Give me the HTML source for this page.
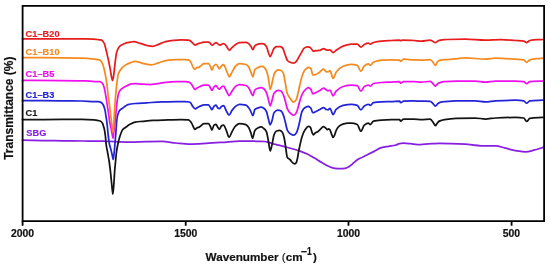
<!DOCTYPE html>
<html><head><meta charset="utf-8"><style>
html,body{margin:0;padding:0;background:#fff;}
body{width:550px;height:268px;overflow:hidden;}
svg{display:block;}
text{font-family:"Liberation Sans",Arial,sans-serif;font-weight:bold;}
</style></head><body>
<svg width="550" height="268" viewBox="0 0 550 268">
<rect width="550" height="268" fill="#fff"/>
<g fill="none" stroke-width="1.75" stroke-linejoin="round" stroke-linecap="round">
<path d="M22.50 140.20C29.07 140.33 35.63 140.51 42.20 140.60C48.90 140.69 55.60 140.73 62.30 140.80C69.03 140.87 75.77 140.93 82.50 141.00C89.20 141.07 95.90 141.10 102.60 141.20C111.73 141.33 120.87 142.00 130.00 142.00C135.33 142.00 140.67 141.69 146.00 141.60C151.33 141.51 156.67 141.40 162.00 141.40C166.67 141.40 171.33 142.59 176.00 143.00C180.67 143.41 185.33 144.00 190.00 144.00C195.33 144.00 200.67 143.65 206.00 143.40C211.33 143.15 216.67 142.77 222.00 142.40C228.00 141.99 234.00 141.00 240.00 141.00C246.20 141.00 252.40 141.16 258.60 141.30C260.73 141.35 262.87 141.37 265.00 141.50C265.87 141.55 266.73 141.88 267.60 142.10C270.17 142.75 272.73 143.71 275.30 144.40C278.70 145.32 282.10 146.00 285.50 146.90C290.33 148.18 295.17 149.45 300.00 151.10C302.43 151.93 304.87 152.86 307.30 154.00C309.70 155.12 312.10 156.69 314.50 158.10C316.93 159.52 319.37 161.10 321.80 162.50C324.23 163.90 326.67 165.55 329.10 166.50C331.03 167.26 332.97 168.08 334.90 168.30C336.83 168.52 338.77 168.70 340.70 168.70C342.13 168.70 343.57 168.52 345.00 168.30C346.00 168.15 347.00 167.68 348.00 167.20C349.43 166.52 350.87 165.26 352.30 164.10C353.37 163.24 354.43 162.01 355.50 161.20C356.83 160.18 358.17 159.36 359.50 158.60C361.93 157.22 364.37 156.20 366.80 155.00C369.23 153.80 371.67 152.62 374.10 151.40C376.53 150.18 378.97 148.38 381.40 147.70C383.80 147.03 386.20 146.75 388.60 146.30C391.03 145.85 393.47 145.60 395.90 145.00C397.10 144.70 398.30 143.94 399.50 143.70C400.73 143.46 401.97 143.20 403.20 143.20C405.63 143.20 408.07 143.49 410.50 143.70C412.90 143.90 415.30 144.50 417.70 144.50C420.13 144.50 422.57 144.23 425.00 144.10C427.43 143.97 429.87 143.82 432.30 143.70C434.70 143.59 437.10 143.40 439.50 143.40C443.37 143.40 447.23 143.51 451.10 143.60C455.80 143.71 460.50 143.92 465.20 144.20C470.60 144.52 476.00 145.80 481.40 145.80C486.10 145.80 490.80 145.80 495.50 145.80C498.87 145.80 502.23 147.40 505.60 148.20C508.93 149.00 512.27 150.04 515.60 150.60C518.97 151.16 522.33 151.90 525.70 151.90C528.40 151.90 531.10 150.86 533.80 150.20C537.17 149.38 540.53 148.20 543.90 147.20" stroke="#871ee1"/>
<path d="M22.50 119.70C35.67 119.57 48.83 119.30 62.00 119.30C68.67 119.30 75.33 119.30 82.00 119.30C86.00 119.30 90.00 119.51 94.00 119.80C96.07 119.95 98.13 120.26 100.20 121.00C100.97 121.27 101.73 121.98 102.50 123.20C102.80 123.68 103.10 125.03 103.40 126.00C103.70 126.97 104.00 127.70 104.30 129.00C104.67 130.59 105.03 132.94 105.40 136.00C105.63 137.95 105.87 142.15 106.10 144.00C106.57 147.69 107.03 149.35 107.50 152.00C108.03 155.02 108.57 157.49 109.10 161.00C109.57 164.07 110.03 167.89 110.50 172.00C110.93 175.82 111.37 180.90 111.80 185.00C112.13 188.15 112.47 194.00 112.80 194.00C113.13 194.00 113.47 188.90 113.80 185.00C114.07 181.88 114.33 175.53 114.60 172.00C114.90 168.03 115.20 165.16 115.50 162.00C115.83 158.49 116.17 154.46 116.50 152.00C116.97 148.55 117.43 146.16 117.90 144.00C118.60 140.76 119.30 138.04 120.00 136.00C120.93 133.28 121.87 130.54 122.80 129.50C123.70 128.49 124.60 128.15 125.50 127.50C127.00 126.41 128.50 125.09 130.00 124.30C131.70 123.41 133.40 122.52 135.10 122.20C137.63 121.72 140.17 121.57 142.70 121.30C146.10 120.93 149.50 120.45 152.90 120.30C158.00 120.08 163.10 120.03 168.20 119.90C172.43 119.80 176.67 119.60 180.90 119.60C183.43 119.60 185.97 119.67 188.50 119.90C189.37 119.98 190.23 121.12 191.10 122.20C191.73 122.99 192.37 124.80 193.00 126.00C193.63 127.20 194.27 129.40 194.90 129.40C195.77 129.40 196.63 127.88 197.50 127.60C197.93 127.46 198.37 127.44 198.80 127.30C200.50 126.76 202.20 123.70 203.90 123.70C205.40 123.70 206.90 123.70 208.40 123.70C209.03 123.70 209.67 125.19 210.30 126.30C210.83 127.23 211.37 130.10 211.90 130.10C212.63 130.10 213.37 125.40 214.10 125.00C214.73 124.65 215.37 124.40 216.00 124.40C216.63 124.40 217.27 126.66 217.90 127.50C218.40 128.16 218.90 129.20 219.40 129.20C220.17 129.20 220.93 125.99 221.70 125.60C222.33 125.27 222.97 125.00 223.60 125.00C224.47 125.00 225.33 128.20 226.20 130.10C227.17 132.21 228.13 137.30 229.10 137.30C230.03 137.30 230.97 133.63 231.90 132.00C233.17 129.79 234.43 126.98 235.70 125.90C236.97 124.82 238.23 123.70 239.50 123.70C241.63 123.70 243.77 124.01 245.90 124.60C246.77 124.84 247.63 125.97 248.50 127.20C249.33 128.39 250.17 130.90 251.00 133.30C251.50 134.74 252.00 138.40 252.50 138.40C253.27 138.40 254.03 131.86 254.80 130.70C255.67 129.39 256.53 128.65 257.40 128.20C258.67 127.54 259.93 126.90 261.20 126.90C262.07 126.90 262.93 127.80 263.80 128.50C264.67 129.20 265.53 129.90 266.40 131.60C267.03 132.84 267.67 137.29 268.30 140.50C268.93 143.71 269.57 151.00 270.20 151.00C270.83 151.00 271.47 147.01 272.10 144.40C272.73 141.79 273.37 136.32 274.00 134.80C274.83 132.80 275.67 131.29 276.50 131.00C277.57 130.63 278.63 130.40 279.70 130.40C280.57 130.40 281.43 131.25 282.30 132.30C282.93 133.07 283.57 135.39 284.20 138.00C284.63 139.79 285.07 143.05 285.50 146.00C285.77 147.82 286.03 150.24 286.30 152.00C286.60 153.98 286.90 156.81 287.20 157.30C288.10 158.77 289.00 158.63 289.90 159.50C290.77 160.34 291.63 161.86 292.50 162.60C293.13 163.14 293.77 163.90 294.40 163.90C295.03 163.90 295.67 163.37 296.30 162.60C296.70 162.11 297.10 160.01 297.50 158.20C297.93 156.24 298.37 152.75 298.80 150.50C299.23 148.25 299.67 146.39 300.10 144.50C300.73 141.74 301.37 138.57 302.00 136.70C303.07 133.55 304.13 131.13 305.20 129.60C306.23 128.12 307.27 126.30 308.30 126.30C308.93 126.30 309.57 126.59 310.20 127.00C310.87 127.43 311.53 131.49 312.20 132.80C312.63 133.65 313.07 134.80 313.50 134.80C314.13 134.80 314.77 133.23 315.40 132.80C316.30 132.19 317.20 132.09 318.10 131.50C318.97 130.94 319.83 129.69 320.70 128.90C321.57 128.11 322.43 126.70 323.30 126.70C323.93 126.70 324.57 127.19 325.20 127.60C325.87 128.03 326.53 129.60 327.20 129.60C327.63 129.60 328.07 128.90 328.50 128.90C328.93 128.90 329.37 129.22 329.80 129.60C330.23 129.98 330.67 131.77 331.10 132.80C331.77 134.39 332.43 137.40 333.10 137.40C333.53 137.40 333.97 136.32 334.40 135.50C335.03 134.31 335.67 131.46 336.30 130.20C337.17 128.48 338.03 127.02 338.90 126.30C340.23 125.19 341.57 124.49 342.90 124.10C344.63 123.60 346.37 123.10 348.10 123.10C349.13 123.10 350.17 123.10 351.20 123.10C353.23 123.10 355.27 123.61 357.30 124.50C358.50 125.03 359.70 131.20 360.90 131.20C362.03 131.20 363.17 126.00 364.30 125.10C365.63 124.04 366.97 123.10 368.30 123.10C369.00 123.10 369.70 124.50 370.40 124.50C371.40 124.50 372.40 121.35 373.40 121.10C376.10 120.41 378.80 120.27 381.50 120.10C384.83 119.89 388.17 119.70 391.50 119.70C394.20 119.70 396.90 119.70 399.60 119.70C399.93 119.70 400.27 121.10 400.60 121.10C401.60 121.10 402.60 119.10 403.60 119.10C406.97 119.10 410.33 119.10 413.70 119.10C416.40 119.10 419.10 119.50 421.80 119.50C424.53 119.50 427.27 119.10 430.00 119.10C430.53 119.10 431.07 119.79 431.60 120.30C432.23 120.91 432.87 122.02 433.50 122.90C434.13 123.78 434.77 125.60 435.40 125.60C436.03 125.60 436.67 123.82 437.30 123.10C437.97 122.34 438.63 121.43 439.30 121.10C440.00 120.75 440.70 120.61 441.40 120.40C442.43 120.10 443.47 119.77 444.50 119.60C448.40 118.98 452.30 118.54 456.20 118.40C462.57 118.17 468.93 118.00 475.30 118.00C478.67 118.00 482.03 119.00 485.40 119.00C488.77 119.00 492.13 118.16 495.50 118.00C502.20 117.67 508.90 117.40 515.60 117.40C518.30 117.40 521.00 117.57 523.70 118.00C524.70 118.16 525.70 121.40 526.70 121.40C527.73 121.40 528.77 118.58 529.80 118.40C534.17 117.65 538.53 117.73 542.90 117.40" stroke="#141414"/>
<path d="M22.50 100.60C35.67 100.67 48.83 100.71 62.00 100.80C68.67 100.85 75.33 100.89 82.00 101.00C86.33 101.07 90.67 101.60 95.00 101.60C95.67 101.60 96.33 101.50 97.00 101.50C97.50 101.50 98.00 101.55 98.50 101.60C99.17 101.67 99.83 101.85 100.50 102.10C100.83 102.22 101.17 102.45 101.50 102.70C101.83 102.95 102.17 103.28 102.50 103.70C102.77 104.03 103.03 104.47 103.30 105.00C103.67 105.73 104.03 106.75 104.40 107.90C104.67 108.73 104.93 109.57 105.20 110.90C105.43 112.06 105.67 114.51 105.90 116.00C106.13 117.49 106.37 118.39 106.60 120.00C106.90 122.07 107.20 125.17 107.50 128.00C107.77 130.51 108.03 133.74 108.30 136.00C108.67 139.11 109.03 142.16 109.40 144.00C110.00 147.00 110.60 148.17 111.20 150.60C111.57 152.09 111.93 153.91 112.30 155.50C112.60 156.80 112.90 159.30 113.20 159.30C113.43 159.30 113.67 156.71 113.90 155.00C114.07 153.78 114.23 152.32 114.40 150.60C114.60 148.53 114.80 145.43 115.00 143.00C115.20 140.57 115.40 138.49 115.60 136.00C115.80 133.51 116.00 130.67 116.20 128.00C116.40 125.33 116.60 121.53 116.80 120.00C117.20 116.94 117.60 115.18 118.00 114.00C118.63 112.13 119.27 110.90 119.90 110.20C120.80 109.20 121.70 108.87 122.60 108.20C123.57 107.48 124.53 106.65 125.50 106.00C126.27 105.48 127.03 104.81 127.80 104.60C130.23 103.94 132.67 103.72 135.10 103.50C138.90 103.16 142.70 103.03 146.50 102.80C151.60 102.49 156.70 102.08 161.80 101.90C166.90 101.72 172.00 101.50 177.10 101.50C179.73 101.50 182.37 101.59 185.00 101.70C186.33 101.75 187.67 101.81 189.00 102.00C189.57 102.08 190.13 102.44 190.70 102.90C191.30 103.39 191.90 105.32 192.50 106.10C193.40 107.27 194.30 108.80 195.20 108.80C196.10 108.80 197.00 107.76 197.90 107.30C199.10 106.69 200.30 106.03 201.50 105.60C202.30 105.32 203.10 104.90 203.90 104.90C205.40 104.90 206.90 104.90 208.40 104.90C209.03 104.90 209.67 106.33 210.30 107.20C210.83 107.93 211.37 109.70 211.90 109.70C212.63 109.70 213.37 106.77 214.10 106.20C214.73 105.71 215.37 105.20 216.00 105.20C216.63 105.20 217.27 107.71 217.90 108.10C218.40 108.41 218.90 108.70 219.40 108.70C220.17 108.70 220.93 106.62 221.70 106.20C222.33 105.86 222.97 105.50 223.60 105.50C224.47 105.50 225.33 109.10 226.20 110.60C227.17 112.28 228.13 115.10 229.10 115.10C230.03 115.10 230.97 111.87 231.90 110.60C233.17 108.88 234.43 107.08 235.70 106.20C236.97 105.32 238.23 104.30 239.50 104.30C241.63 104.30 243.77 104.62 245.90 105.20C246.77 105.43 247.63 106.48 248.50 107.50C249.33 108.48 250.17 110.34 251.00 111.90C251.63 113.09 252.27 115.70 252.90 115.70C253.53 115.70 254.17 110.38 254.80 109.70C255.67 108.77 256.53 108.40 257.40 108.10C258.67 107.65 259.93 107.20 261.20 107.20C262.07 107.20 262.93 107.75 263.80 108.30C264.67 108.85 265.53 109.86 266.40 111.50C267.03 112.70 267.67 116.29 268.30 118.50C268.93 120.71 269.57 124.80 270.20 124.80C270.83 124.80 271.47 122.27 272.10 120.40C272.73 118.53 273.37 113.48 274.00 112.70C275.27 111.14 276.53 110.20 277.80 110.20C278.87 110.20 279.93 110.43 281.00 110.80C281.83 111.09 282.67 113.24 283.50 115.30C284.10 116.78 284.70 119.69 285.30 122.00C286.00 124.70 286.70 129.12 287.40 130.40C288.43 132.29 289.47 133.28 290.50 133.90C291.57 134.54 292.63 135.20 293.70 135.20C294.57 135.20 295.43 134.08 296.30 132.90C296.93 132.03 297.57 129.89 298.20 127.80C298.67 126.26 299.13 123.98 299.60 122.00C300.40 118.60 301.20 113.07 302.00 111.50C303.07 109.41 304.13 108.21 305.20 107.60C306.27 106.99 307.33 106.40 308.40 106.40C309.23 106.40 310.07 107.32 310.90 108.30C311.53 109.04 312.17 112.70 312.80 112.70C313.87 112.70 314.93 111.96 316.00 111.50C317.27 110.95 318.53 110.15 319.80 109.50C321.07 108.85 322.33 107.60 323.60 107.60C324.47 107.60 325.33 109.21 326.20 109.50C326.80 109.70 327.40 109.90 328.00 109.90C328.67 109.90 329.33 108.30 330.00 108.30C331.03 108.30 332.07 114.70 333.10 114.70C334.10 114.70 335.10 110.23 336.10 109.30C338.43 107.13 340.77 105.78 343.10 105.30C345.80 104.74 348.50 104.30 351.20 104.30C353.23 104.30 355.27 104.67 357.30 105.30C358.50 105.67 359.70 109.90 360.90 109.90C362.03 109.90 363.17 106.59 364.30 105.90C365.63 105.09 366.97 104.30 368.30 104.30C369.00 104.30 369.70 105.30 370.40 105.30C371.40 105.30 372.40 102.80 373.40 102.60C376.10 102.05 378.80 101.89 381.50 101.80C384.83 101.69 388.17 101.70 391.50 101.60C394.20 101.52 396.90 101.20 399.60 101.20C399.93 101.20 400.27 102.60 400.60 102.60C401.60 102.60 402.60 101.29 403.60 101.20C406.97 100.91 410.33 100.80 413.70 100.80C416.40 100.80 419.10 101.15 421.80 101.20C424.63 101.25 427.47 101.22 430.30 101.30C431.13 101.32 431.97 102.54 432.80 103.30C433.67 104.09 434.53 106.10 435.40 106.10C436.27 106.10 437.13 104.08 438.00 103.50C438.87 102.92 439.73 102.41 440.60 102.20C441.90 101.88 443.20 101.73 444.50 101.60C448.40 101.21 452.30 100.80 456.20 100.80C462.57 100.80 468.93 100.80 475.30 100.80C478.67 100.80 482.03 101.80 485.40 101.80C488.77 101.80 492.13 100.96 495.50 100.80C502.20 100.47 508.90 100.20 515.60 100.20C518.30 100.20 521.00 100.38 523.70 100.80C524.70 100.96 525.70 103.20 526.70 103.20C527.73 103.20 528.77 100.91 529.80 100.80C534.17 100.34 538.53 100.40 542.90 100.20" stroke="#2323d7"/>
<path d="M22.50 80.40C35.00 80.43 47.50 80.44 60.00 80.50C68.33 80.54 76.67 80.61 85.00 80.80C88.33 80.88 91.67 81.50 95.00 81.50C95.83 81.50 96.67 81.50 97.50 81.50C98.23 81.50 98.97 81.54 99.70 81.60C100.47 81.66 101.23 82.22 102.00 82.90C102.50 83.34 103.00 84.34 103.50 85.50C103.87 86.35 104.23 87.66 104.60 89.20C104.87 90.32 105.13 92.01 105.40 93.50C105.60 94.62 105.80 95.78 106.00 97.00C106.47 99.84 106.93 102.95 107.40 106.00C107.90 109.27 108.40 112.31 108.90 116.00C109.07 117.23 109.23 118.93 109.40 120.00C109.93 123.42 110.47 125.33 111.00 128.00C111.40 130.00 111.80 131.92 112.20 134.00C112.47 135.38 112.73 138.30 113.00 138.30C113.27 138.30 113.53 134.05 113.80 132.00C114.07 129.95 114.33 128.14 114.60 126.00C114.83 124.13 115.07 122.25 115.30 120.00C115.60 117.11 115.90 113.01 116.20 110.00C116.57 106.32 116.93 102.53 117.30 100.00C117.53 98.39 117.77 97.12 118.00 96.00C118.30 94.56 118.60 93.01 118.90 92.30C119.33 91.27 119.77 90.72 120.20 90.20C120.77 89.52 121.33 89.04 121.90 88.60C122.60 88.05 123.30 87.60 124.00 87.20C125.23 86.50 126.47 85.96 127.70 85.40C128.93 84.84 130.17 83.90 131.40 83.80C132.90 83.68 134.40 83.60 135.90 83.60C137.63 83.60 139.37 84.00 141.10 84.10C142.83 84.20 144.57 84.21 146.30 84.30C147.57 84.37 148.83 84.60 150.10 84.60C151.73 84.60 153.37 84.32 155.00 84.10C156.43 83.91 157.87 83.51 159.30 83.30C162.37 82.84 165.43 82.50 168.50 82.20C171.23 81.93 173.97 81.50 176.70 81.50C179.63 81.50 182.57 81.57 185.50 81.70C186.70 81.75 187.90 81.90 189.10 82.20C189.83 82.38 190.57 83.20 191.30 84.00C192.03 84.80 192.77 86.52 193.50 87.60C193.97 88.29 194.43 89.50 194.90 89.50C195.63 89.50 196.37 88.43 197.10 88.00C198.07 87.43 199.03 86.90 200.00 86.50C201.30 85.97 202.60 85.20 203.90 85.20C205.40 85.20 206.90 85.20 208.40 85.20C209.03 85.20 209.67 86.58 210.30 87.50C210.83 88.28 211.37 90.40 211.90 90.40C212.63 90.40 213.37 87.50 214.10 86.80C214.73 86.19 215.37 85.50 216.00 85.50C216.63 85.50 217.27 87.54 217.90 88.10C218.40 88.54 218.90 89.10 219.40 89.10C220.17 89.10 220.93 87.16 221.70 86.80C222.33 86.50 222.97 86.20 223.60 86.20C224.47 86.20 225.33 89.11 226.20 90.60C227.17 92.27 228.13 95.70 229.10 95.70C230.03 95.70 230.97 92.66 231.90 91.30C233.17 89.46 234.43 86.97 235.70 86.20C236.97 85.43 238.23 84.70 239.50 84.70C241.63 84.70 243.77 84.99 245.90 85.50C246.77 85.71 247.63 86.53 248.50 87.50C249.33 88.43 250.17 90.98 251.00 92.50C251.63 93.65 252.27 95.70 252.90 95.70C253.53 95.70 254.17 90.64 254.80 90.00C255.67 89.13 256.53 88.82 257.40 88.50C258.67 88.03 259.93 87.50 261.20 87.50C262.07 87.50 262.93 88.09 263.80 88.70C264.67 89.31 265.53 90.70 266.40 92.50C267.03 93.82 267.67 96.67 268.30 98.90C268.93 101.13 269.57 105.90 270.20 105.90C270.83 105.90 271.47 102.29 272.10 100.20C272.73 98.11 273.37 94.06 274.00 93.20C275.27 91.47 276.53 90.30 277.80 90.30C278.87 90.30 279.93 90.57 281.00 91.00C281.83 91.33 282.67 93.24 283.50 95.10C284.10 96.44 284.70 98.90 285.30 101.00C286.00 103.45 286.70 107.39 287.40 108.90C288.43 111.13 289.47 112.53 290.50 113.40C291.57 114.30 292.63 115.30 293.70 115.30C294.57 115.30 295.43 114.03 296.30 112.70C296.93 111.72 297.57 109.12 298.20 107.00C298.73 105.22 299.27 102.76 299.80 101.00C300.37 99.13 300.93 97.35 301.50 96.00C302.30 94.10 303.10 92.28 303.90 91.30C305.40 89.46 306.90 87.50 308.40 87.50C309.23 87.50 310.07 88.42 310.90 89.40C311.53 90.14 312.17 93.80 312.80 93.80C313.87 93.80 314.93 92.98 316.00 92.50C317.27 91.93 318.53 91.32 319.80 90.60C321.07 89.88 322.33 88.10 323.60 88.10C324.47 88.10 325.33 89.17 326.20 89.70C326.80 90.07 327.40 90.80 328.00 90.80C328.67 90.80 329.33 90.10 330.00 90.10C331.03 90.10 332.07 95.80 333.10 95.80C334.10 95.80 335.10 92.19 336.10 91.20C338.43 88.90 340.77 87.15 343.10 86.50C345.80 85.75 348.50 85.10 351.20 85.10C353.23 85.10 355.27 85.29 357.30 85.70C358.50 85.94 359.70 91.20 360.90 91.20C362.03 91.20 363.17 87.14 364.30 86.50C365.63 85.74 366.97 85.10 368.30 85.10C369.00 85.10 369.70 86.10 370.40 86.10C371.40 86.10 372.40 83.74 373.40 83.50C376.10 82.84 378.80 82.67 381.50 82.50C384.83 82.29 388.17 82.25 391.50 82.10C394.20 81.98 396.90 81.70 399.60 81.70C399.93 81.70 400.27 83.10 400.60 83.10C401.60 83.10 402.60 81.70 403.60 81.70C406.97 81.70 410.33 81.70 413.70 81.70C416.40 81.70 419.10 82.10 421.80 82.10C424.53 82.10 427.27 81.40 430.00 81.40C430.87 81.40 431.73 82.47 432.60 83.20C433.50 83.96 434.40 86.10 435.30 86.10C436.17 86.10 437.03 83.91 437.90 83.40C438.80 82.87 439.70 82.51 440.60 82.30C441.90 82.00 443.20 81.81 444.50 81.70C448.40 81.37 452.30 81.10 456.20 81.10C462.57 81.10 468.93 81.10 475.30 81.10C478.67 81.10 482.03 82.10 485.40 82.10C488.77 82.10 492.13 81.10 495.50 81.10C502.20 81.10 508.90 81.10 515.60 81.10C518.30 81.10 521.00 81.29 523.70 81.70C524.70 81.85 525.70 83.70 526.70 83.70C527.73 83.70 528.77 81.81 529.80 81.70C534.17 81.25 538.53 81.30 542.90 81.10" stroke="#ee10ee"/>
<path d="M22.50 57.60C35.67 57.67 48.83 57.69 62.00 57.80C68.67 57.85 75.33 57.92 82.00 58.10C86.33 58.22 90.67 58.70 95.00 59.20C96.50 59.37 98.00 59.46 99.50 59.90C100.23 60.12 100.97 61.14 101.70 62.20C102.13 62.83 102.57 63.83 103.00 65.00C103.33 65.90 103.67 67.18 104.00 68.50C104.50 70.48 105.00 72.83 105.50 75.50C106.00 78.17 106.50 81.14 107.00 84.90C107.40 87.91 107.80 92.76 108.20 96.00C108.67 99.77 109.13 102.40 109.60 106.00C110.00 109.08 110.40 112.74 110.80 116.00C110.97 117.36 111.13 118.60 111.30 120.00C111.60 122.51 111.90 125.94 112.20 128.00C112.47 129.83 112.73 132.50 113.00 132.50C113.20 132.50 113.40 129.46 113.60 127.00C113.73 125.36 113.87 122.28 114.00 120.00C114.20 116.58 114.40 113.17 114.60 110.00C114.87 105.78 115.13 101.25 115.40 98.00C115.83 92.72 116.27 88.97 116.70 85.00C116.93 82.86 117.17 80.61 117.40 79.00C117.67 77.16 117.93 75.32 118.20 74.40C118.53 73.25 118.87 72.66 119.20 72.00C119.60 71.21 120.00 70.59 120.40 70.00C121.10 68.97 121.80 67.97 122.50 67.30C123.67 66.18 124.83 65.35 126.00 64.70C127.60 63.81 129.20 63.14 130.80 62.60C132.23 62.11 133.67 61.40 135.10 61.40C137.63 61.40 140.17 62.77 142.70 63.30C145.67 63.92 148.63 64.90 151.60 64.90C154.17 64.90 156.73 63.37 159.30 62.60C161.83 61.84 164.37 60.66 166.90 60.30C169.87 59.88 172.83 59.50 175.80 59.50C178.77 59.50 181.73 59.50 184.70 59.50C186.20 59.50 187.70 59.69 189.20 60.10C189.83 60.27 190.47 61.53 191.10 62.60C191.73 63.67 192.37 66.11 193.00 67.10C193.63 68.09 194.27 69.30 194.90 69.30C195.53 69.30 196.17 67.91 196.80 67.70C197.47 67.48 198.13 67.49 198.80 67.30C200.50 66.81 202.20 63.70 203.90 63.70C205.40 63.70 206.90 63.70 208.40 63.70C209.03 63.70 209.67 64.94 210.30 66.00C210.83 66.89 211.37 70.20 211.90 70.20C212.53 70.20 213.17 66.73 213.80 66.00C214.53 65.15 215.27 64.30 216.00 64.30C216.63 64.30 217.27 65.68 217.90 66.60C218.33 67.23 218.77 68.90 219.20 68.90C220.03 68.90 220.87 66.31 221.70 65.70C222.33 65.24 222.97 64.70 223.60 64.70C224.47 64.70 225.33 68.01 226.20 69.80C227.27 72.00 228.33 76.80 229.40 76.80C230.23 76.80 231.07 73.84 231.90 72.40C233.17 70.22 234.43 67.20 235.70 66.00C236.97 64.80 238.23 63.50 239.50 63.50C241.63 63.50 243.77 63.88 245.90 64.50C246.77 64.75 247.63 65.56 248.50 66.60C249.33 67.60 250.17 70.47 251.00 72.40C251.63 73.87 252.27 76.80 252.90 76.80C253.53 76.80 254.17 70.60 254.80 69.80C255.67 68.71 256.53 68.37 257.40 67.90C258.67 67.21 259.93 66.30 261.20 66.30C261.87 66.30 262.53 66.43 263.20 66.60C264.03 66.81 264.87 67.90 265.70 69.20C266.57 70.56 267.43 73.77 268.30 77.50C268.93 80.22 269.57 89.40 270.20 89.40C271.03 89.40 271.87 83.10 272.70 80.00C273.33 77.64 273.97 74.05 274.60 73.00C275.67 71.24 276.73 69.80 277.80 69.80C278.87 69.80 279.93 70.09 281.00 70.50C281.83 70.82 282.67 71.87 283.50 73.60C284.07 74.78 284.63 79.47 285.20 82.40C285.93 86.20 286.67 91.91 287.40 93.80C288.43 96.46 289.47 97.61 290.50 98.90C291.57 100.23 292.63 102.10 293.70 102.10C294.57 102.10 295.43 100.91 296.30 99.50C296.93 98.47 297.57 95.07 298.20 92.50C299.03 89.12 299.87 84.51 300.70 81.10C301.13 79.33 301.57 77.46 302.00 76.20C302.83 73.77 303.67 71.54 304.50 70.50C305.80 68.88 307.10 67.30 308.40 67.30C309.23 67.30 310.07 67.78 310.90 68.50C311.53 69.05 312.17 74.90 312.80 74.90C313.43 74.90 314.07 74.90 314.70 74.90C315.97 74.90 317.23 73.75 318.50 73.00C320.20 71.99 321.90 69.20 323.60 69.20C324.47 69.20 325.33 71.54 326.20 71.70C326.80 71.81 327.40 71.90 328.00 71.90C328.67 71.90 329.33 70.70 330.00 70.70C331.03 70.70 332.07 78.40 333.10 78.40C334.10 78.40 335.10 73.58 336.10 72.30C338.43 69.32 340.77 67.21 343.10 66.30C345.80 65.25 348.50 64.30 351.20 64.30C353.23 64.30 355.27 64.65 357.30 65.30C358.50 65.69 359.70 71.30 360.90 71.30C362.03 71.30 363.17 66.77 364.30 65.90C365.63 64.87 366.97 63.90 368.30 63.90C369.00 63.90 369.70 65.30 370.40 65.30C371.40 65.30 372.40 62.75 373.40 62.30C376.10 61.08 378.80 60.39 381.50 60.20C384.83 59.96 388.17 59.80 391.50 59.80C394.20 59.80 396.90 59.87 399.60 60.20C399.93 60.24 400.27 61.30 400.60 61.30C401.60 61.30 402.60 59.20 403.60 59.20C406.97 59.20 410.33 59.63 413.70 59.80C416.73 59.95 419.77 60.20 422.80 60.20C425.20 60.20 427.60 59.50 430.00 59.50C430.87 59.50 431.73 60.72 432.60 61.60C433.50 62.51 434.40 65.30 435.30 65.30C436.13 65.30 436.97 61.97 437.80 61.40C438.73 60.77 439.67 60.39 440.60 60.20C441.90 59.94 443.20 59.77 444.50 59.70C445.37 59.65 446.23 59.64 447.10 59.60C450.13 59.45 453.17 59.10 456.20 58.80C459.20 58.51 462.20 57.80 465.20 57.80C471.93 57.80 478.67 59.20 485.40 59.20C488.77 59.20 492.13 58.20 495.50 58.20C502.20 58.20 508.90 58.79 515.60 59.20C518.30 59.37 521.00 59.38 523.70 59.80C524.70 59.96 525.70 62.30 526.70 62.30C527.73 62.30 528.77 60.09 529.80 59.80C532.47 59.05 535.13 58.87 537.80 58.60C539.50 58.43 541.20 58.33 542.90 58.20" stroke="#f48a20"/>
<path d="M22.50 38.80C35.00 38.78 47.50 38.75 60.00 38.75C68.33 38.75 76.67 38.80 85.00 38.90C87.67 38.93 90.33 39.06 93.00 39.20C94.33 39.27 95.67 39.39 97.00 39.50C98.33 39.61 99.67 39.64 101.00 39.90C101.67 40.03 102.33 40.77 103.00 41.50C103.50 42.05 104.00 42.83 104.50 44.00C104.87 44.85 105.23 46.58 105.60 48.00C106.30 50.72 107.00 53.76 107.70 56.90C108.43 60.19 109.17 63.55 109.90 67.40C110.50 70.55 111.10 75.33 111.70 77.80C111.97 78.90 112.23 80.50 112.50 80.50C112.83 80.50 113.17 78.26 113.50 76.50C114.03 73.68 114.57 66.97 115.10 62.90C115.60 59.09 116.10 54.29 116.60 52.50C117.37 49.75 118.13 48.19 118.90 47.20C119.60 46.30 120.30 45.76 121.00 45.30C122.00 44.64 123.00 44.24 124.00 43.80C125.00 43.36 126.00 42.80 127.00 42.60C128.00 42.40 129.00 42.33 130.00 42.20C131.27 42.03 132.53 41.70 133.80 41.70C135.93 41.70 138.07 42.80 140.20 43.40C142.30 43.99 144.40 44.87 146.50 45.30C148.63 45.74 150.77 46.30 152.90 46.30C154.60 46.30 156.30 45.20 158.00 44.60C160.53 43.70 163.07 42.29 165.60 41.70C168.17 41.10 170.73 40.64 173.30 40.40C175.83 40.16 178.37 39.90 180.90 39.90C183.43 39.90 185.97 39.98 188.50 40.20C189.37 40.27 190.23 40.92 191.10 41.50C191.93 42.06 192.77 43.39 193.60 44.00C194.17 44.41 194.73 45.00 195.30 45.00C196.03 45.00 196.77 44.16 197.50 43.90C198.33 43.60 199.17 43.44 200.00 43.20C201.30 42.82 202.60 42.00 203.90 42.00C205.40 42.00 206.90 42.00 208.40 42.00C209.03 42.00 209.67 42.79 210.30 43.30C210.93 43.81 211.57 45.20 212.20 45.20C212.83 45.20 213.47 44.33 214.10 43.90C214.73 43.47 215.37 42.60 216.00 42.60C216.63 42.60 217.27 43.47 217.90 43.90C218.53 44.33 219.17 45.20 219.80 45.20C220.43 45.20 221.07 44.58 221.70 44.30C222.33 44.02 222.97 43.50 223.60 43.50C224.47 43.50 225.33 44.87 226.20 45.80C227.27 46.95 228.33 50.30 229.40 50.30C230.23 50.30 231.07 48.48 231.90 47.70C233.17 46.51 234.43 45.29 235.70 44.50C236.97 43.71 238.23 42.72 239.50 42.60C241.63 42.40 243.77 42.30 245.90 42.30C246.77 42.30 247.63 42.92 248.50 43.50C249.33 44.06 250.17 45.34 251.00 46.50C251.63 47.38 252.27 49.60 252.90 49.60C253.53 49.60 254.17 46.38 254.80 45.80C255.67 45.00 256.53 44.58 257.40 44.30C258.67 43.90 259.93 43.50 261.20 43.50C262.07 43.50 262.93 43.67 263.80 43.90C264.67 44.13 265.53 45.17 266.40 46.50C267.03 47.48 267.67 50.54 268.30 52.20C268.93 53.86 269.57 56.60 270.20 56.60C270.83 56.60 271.47 54.16 272.10 52.80C272.73 51.44 273.37 49.14 274.00 48.40C274.83 47.42 275.67 46.50 276.50 46.50C277.80 46.50 279.10 46.50 280.40 46.50C281.23 46.50 282.07 47.35 282.90 48.40C283.43 49.07 283.97 51.52 284.50 53.00C284.93 54.20 285.37 55.38 285.80 56.50C286.33 57.88 286.87 59.94 287.40 60.50C288.43 61.59 289.47 62.03 290.50 62.40C291.57 62.78 292.63 63.20 293.70 63.20C294.57 63.20 295.43 62.33 296.30 61.50C297.13 60.70 297.97 58.55 298.80 57.10C299.67 55.59 300.53 54.08 301.40 52.60C302.23 51.18 303.07 49.06 303.90 48.40C304.97 47.56 306.03 46.80 307.10 46.80C307.93 46.80 308.77 46.91 309.60 47.10C310.23 47.24 310.87 48.34 311.50 49.00C312.17 49.70 312.83 51.20 313.50 51.20C314.33 51.20 315.17 50.82 316.00 50.70C317.27 50.52 318.53 50.52 319.80 50.30C321.07 50.08 322.33 48.60 323.60 48.60C324.47 48.60 325.33 49.69 326.20 49.90C326.80 50.05 327.40 50.20 328.00 50.20C328.67 50.20 329.33 49.80 330.00 49.80C331.03 49.80 332.07 52.60 333.10 52.60C334.10 52.60 335.10 50.89 336.10 50.20C338.43 48.59 340.77 46.92 343.10 46.10C345.80 45.15 348.50 44.10 351.20 44.10C353.23 44.10 355.27 44.10 357.30 44.10C358.50 44.10 359.70 47.10 360.90 47.10C362.03 47.10 363.17 45.05 364.30 44.50C365.63 43.85 366.97 43.10 368.30 43.10C369.00 43.10 369.70 44.10 370.40 44.10C371.40 44.10 372.40 42.78 373.40 42.50C376.10 41.74 378.80 41.34 381.50 41.10C384.83 40.80 388.17 40.68 391.50 40.50C394.20 40.35 396.90 40.10 399.60 40.10C399.93 40.10 400.27 40.70 400.60 40.70C401.27 40.70 401.93 40.10 402.60 40.10C406.30 40.10 410.00 40.32 413.70 40.50C416.40 40.63 419.10 41.10 421.80 41.10C424.53 41.10 427.27 40.10 430.00 40.10C430.87 40.10 431.73 40.78 432.60 41.20C433.47 41.62 434.33 42.70 435.20 42.70C436.10 42.70 437.00 41.36 437.90 41.00C438.80 40.64 439.70 40.37 440.60 40.20C441.90 39.96 443.20 39.82 444.50 39.70C445.37 39.62 446.23 39.53 447.10 39.50C453.13 39.26 459.17 39.10 465.20 39.10C471.93 39.10 478.67 40.10 485.40 40.10C490.77 40.10 496.13 39.50 501.50 39.50C506.20 39.50 510.90 40.16 515.60 40.50C518.30 40.70 521.00 40.71 523.70 41.10C524.70 41.24 525.70 42.50 526.70 42.50C527.73 42.50 528.77 40.70 529.80 40.50C532.47 39.98 535.13 39.84 537.80 39.70C539.53 39.61 541.27 39.57 543.00 39.50" stroke="#e81c1e"/>
</g>
<g fill="none" stroke="#000" stroke-width="1.8">
<path d="M22.6 5.9V221.2H544.1V5.9Z" stroke-linejoin="miter"/>
<path d="M22.6 221.2V225.8M185.7 221.2V225.8M348.5 221.2V225.8M511.6 221.2V225.8"/>
</g>
<g font-size="10.4" text-anchor="middle" fill="#111" stroke="#111" stroke-width="0.2">
<text x="22.6" y="236.7">2000</text>
<text x="185.7" y="236.7">1500</text>
<text x="348.5" y="236.7">1000</text>
<text x="511.4" y="236.7">500</text>
</g>
<g fill="#111" stroke="#111" stroke-width="0.2">
<text x="205.6" y="261.4" font-size="11.7">Wavenumber <tspan font-weight="normal" stroke-width="0.1">(</tspan>cm</text>
<text x="300.9" y="255.4" font-size="10.6">&#8211;</text>
<text transform="translate(307.0,255.4) scale(0.8,1)" font-size="10.6">1</text>
<text x="313.0" y="261.4" font-size="11.7" font-weight="normal" stroke-width="0.1">)</text>
</g>
<text transform="translate(13.4,108.2) rotate(-90)" text-anchor="middle" font-size="12" fill="#111" stroke="#111" stroke-width="0.2">Transmittance (%)</text>
<g font-size="9.9" stroke-width="0.15">
<text transform="translate(25.6,36.9) scale(0.935,1)" fill="#e81c1e" stroke="#e81c1e">C1&#8211;B20</text>
<text transform="translate(25.6,55.3) scale(0.935,1)" fill="#f48a20" stroke="#f48a20">C1&#8211;B10</text>
<text transform="translate(25.6,77.1) scale(0.935,1)" fill="#ee10ee" stroke="#ee10ee">C1&#8211;B5</text>
<text transform="translate(25.6,98.3) scale(0.935,1)" fill="#2323d7" stroke="#2323d7">C1&#8211;B3</text>
<text transform="translate(25.6,115.5) scale(0.935,1)" fill="#141414" stroke="#141414">C1</text>
<text transform="translate(26.3,135.9) scale(0.935,1)" fill="#871ee1" stroke="#871ee1">SBG</text>
</g>
</svg>
</body></html>
